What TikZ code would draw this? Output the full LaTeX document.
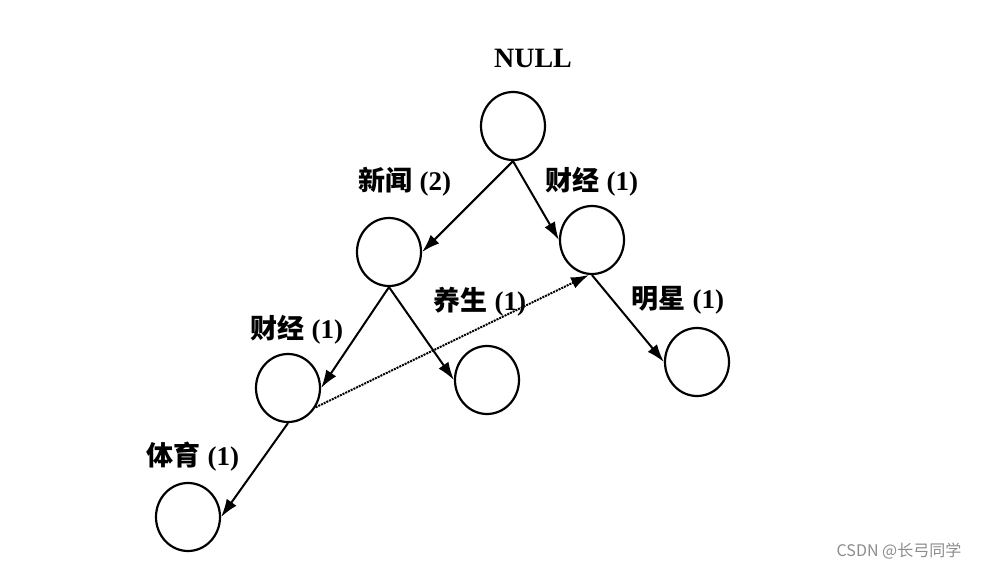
\documentclass[tikz,border=0pt]{standalone}
\usepackage{fontspec}
\setmainfont{Liberation Serif}
\newfontfamily\cjk{Noto Sans CJK SC}
\usetikzlibrary{arrows.meta,shapes.geometric}

\tikzset{
	trie/.style={ellipse,draw,line width=2.2pt,minimum width=64pt,minimum height=68pt,inner sep=0pt},
	lbl/.style={font=\fontsize{27}{29}\selectfont\bfseries},
	link/.style={->,line width=2pt},
}

\begin{document}
\begin{tikzpicture}[x=1pt,y=-1pt,>={Latex[length=18pt,width=12pt]}]
		\useasboundingbox (0,0) rectangle (983,570);

		\node[trie] (root)      at (513,126) {};
		\node[trie] (xinwen)    at (389,252) {};
		\node[trie] (caijingR)  at (592,240) {};
		\node[trie] (caijingL)  at (288,388) {};
		\node[trie] (yangsheng) at (487,380) {};
		\node[trie] (mingxing)  at (697,362) {};
		\node[trie] (tiyu)      at (188,517) {};

		\node[lbl,font=\fontsize{28}{30}\selectfont\bfseries] (lnull) at (533,58) {NULL};
		\node[lbl] (lxinwen)    at (405,182) {{\cjk 新闻} (2)};
		\node[lbl] (lcaijingR)  at (592,182) {{\cjk 财经} (1)};
		\node[lbl] (lyangsheng) at (480,302) {{\cjk 养生} (1)};
		\node[lbl] (lcaijingL)  at (297,330) {{\cjk 财经} (1)};
		\node[lbl] (ltiyu)      at (193,457) {{\cjk 体育} (1)};
		\node[lbl] (lmingxing)  at (678,300) {{\cjk 明星} (1)};

		\draw[link] (root.south)     -- (xinwen.east);
		\draw[link] (root.south)     -- (caijingR.west);
		\draw[link] (xinwen.south)   -- (caijingL.east);
		\draw[link] (xinwen.south)   -- (yangsheng.west);
		\draw[link] (caijingL.south) -- (tiyu.east);
		\draw[link] (caijingR.south) -- (mingxing.west);
		\draw[link,densely dotted] (caijingL.-35) -- (caijingR.-95);

		\node[text=black!45,font=\cjk\fontsize{16}{18}\selectfont] (mark) at (899,551) {CSDN @长弓同学};
	\end{tikzpicture}
\end{document}
